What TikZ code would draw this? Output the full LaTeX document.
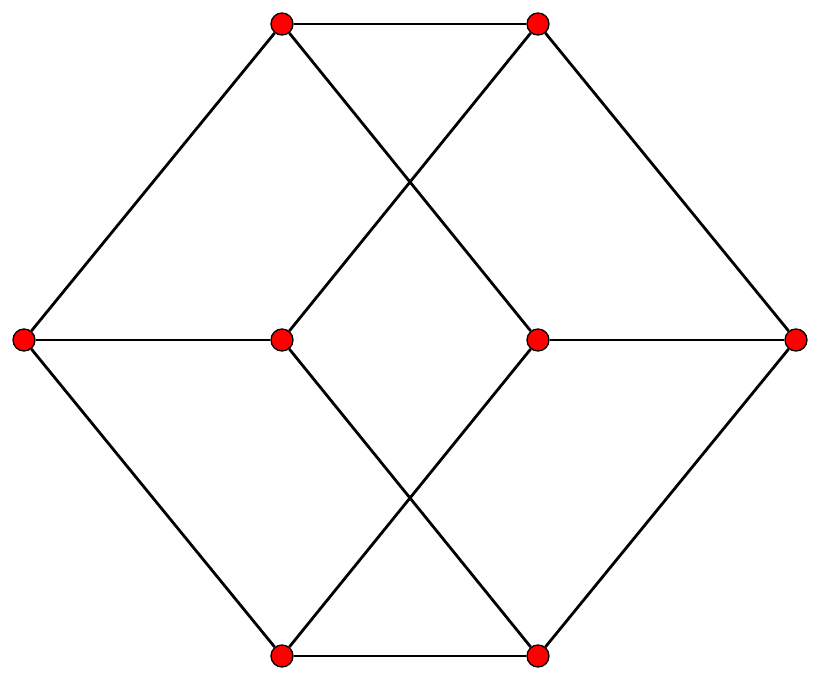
\documentclass[tikz,border=0pt]{standalone}
\begin{document}
\begin{tikzpicture}[x=1pt,y=-1pt,
  vtx/.style={circle,fill=red,draw=black,line width=1.3pt,minimum size=22pt,inner sep=0pt},
  edge/.style={line width=2.8pt,black}]
\useasboundingbox[fill=white] (0,0) rectangle (820,680);
\node[vtx] (t1) at (282,24) {};
\node[vtx] (t2) at (538,24) {};
\node[vtx] (l) at (24,340) {};
\node[vtx] (cl) at (282,340) {};
\node[vtx] (cr) at (538,340) {};
\node[vtx] (r) at (796,340) {};
\node[vtx] (b1) at (282,656) {};
\node[vtx] (b2) at (538,656) {};
\draw[edge] (t1) -- (t2);
\draw[edge] (t1) -- (l);
\draw[edge] (t1) -- (cr);
\draw[edge] (t2) -- (cl);
\draw[edge] (t2) -- (r);
\draw[edge] (l) -- (cl);
\draw[edge] (cr) -- (r);
\draw[edge] (l) -- (b1);
\draw[edge] (cl) -- (b2);
\draw[edge] (cr) -- (b1);
\draw[edge] (r) -- (b2);
\draw[edge] (b1) -- (b2);
\end{tikzpicture}
\end{document}
